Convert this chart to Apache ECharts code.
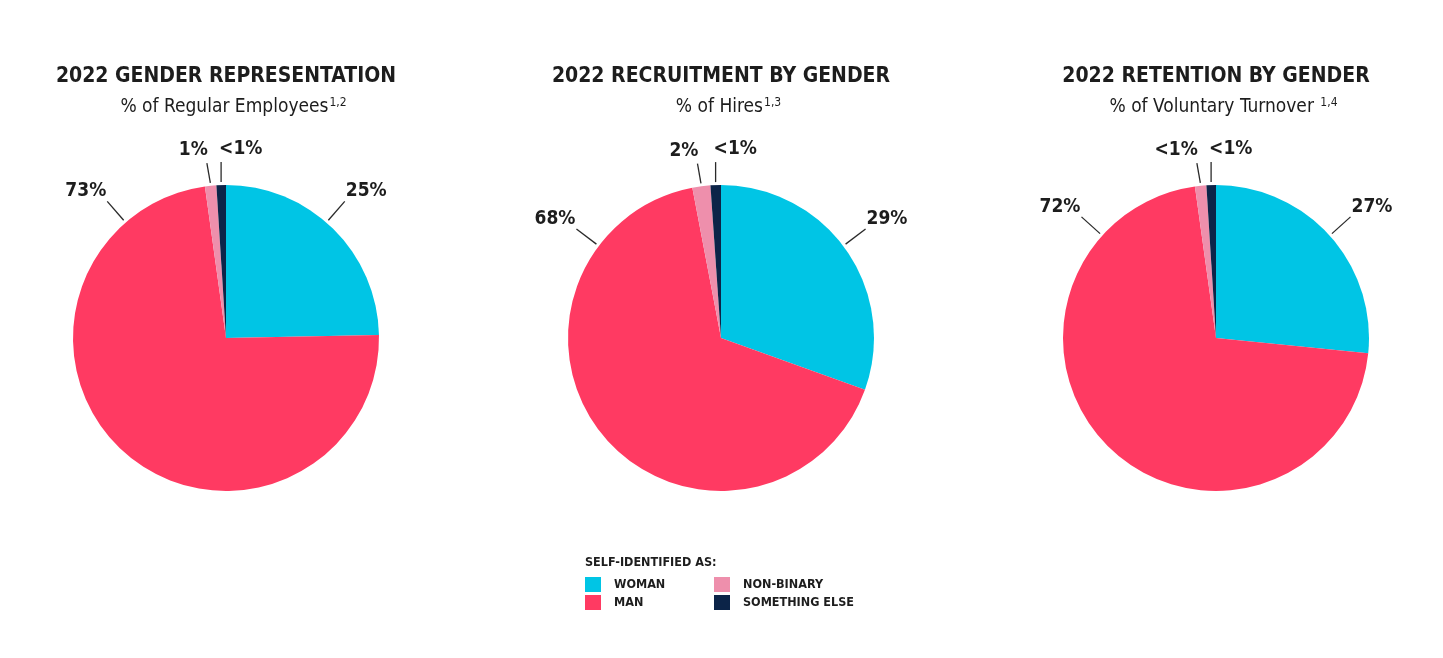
<!DOCTYPE html>
<html>
<head>
<meta charset="utf-8">
<script src="https://cdn.jsdelivr.net/npm/echarts@6/dist/echarts.min.js"></script>
<style>
  html, body { margin: 0; padding: 0; background: #ffffff; }
  #chart { width: 1443px; height: 658px; }
</style>
</head>
<body>
<div id="chart"></div>
<script>
// ---- data ----
const categories = ['Woman', 'Man', 'Non-binary', 'Something else'];
const representationValues = [24.7, 73.1, 1.2, 1.0];
const recruitmentValues   = [30.5, 66.5, 1.9, 1.1];
const retentionValues     = [26.6, 71.2, 1.2, 1.0];
const representationLabels = ['25%', '73%', '1%', '<1%'];
const recruitmentLabels    = ['29%', '68%', '2%', '<1%'];
const retentionLabels      = ['27%', '72%', '<1%', '<1%'];
const chartTitles = ['2022 GENDER REPRESENTATION', '2022 RECRUITMENT BY GENDER', '2022 RETENTION BY GENDER'];
const chartSubtitles = ['% of Regular Employees', '% of Hires', '% of Voluntary Turnover '];
const footnotes = ['1,2', '1,3', '1,4'];
const legendHeading = 'SELF-IDENTIFIED AS:';

// ---- styling / layout ----
const colors = ['#00C5E5', '#FF3A62', '#EE8FAC', '#0C2448'];
const FONT = "'Liberation Sans Narrow', 'Arial Narrow', 'DejaVu Sans Condensed', sans-serif";
const pieCenters = [[226, 338], [721, 338], [1216, 338]];
const R = 153;
const bigLabelAngles = [41, 53, 48];

const allValues = [representationValues, recruitmentValues, retentionValues];
const allLabels = [representationLabels, recruitmentLabels, retentionLabels];

function pt(cx, cy, deg, r) {
  const a = deg * Math.PI / 180;
  return [cx + r * Math.sin(a), cy - r * Math.cos(a)];
}
function midAngle(si, di) {
  const vals = allValues[si];
  const total = vals.reduce((s, v) => s + v, 0);
  let cum = 0;
  for (let i = 0; i < di; i++) cum += vals[i];
  const mid = (cum + vals[di] / 2) / total * 360;
  return mid > 180 ? mid - 360 : mid;
}

function labelLayout(params) {
  const si = params.seriesIndex, di = params.dataIndex;
  const [cx, cy] = pieCenters[si];
  let start, end, x, y, align;
  if (di < 2) {
    const a = di === 0 ? bigLabelAngles[si] : -bigLabelAngles[si];
    start = pt(cx, cy, a, R + 3);
    end = pt(cx, cy, a, R + 28);
    x = di === 0 ? end[0] + 1 : end[0] - 1;
    y = end[1] - 10;
    align = di === 0 ? 'left' : 'right';
  } else {
    const a = midAngle(si, di);
    start = pt(cx, cy, a, R + 3);
    const dir = di === 2 ? -10 : 0;
    end = pt(start[0], start[1], dir, 20);
    x = di === 2 ? end[0] + 1 : end[0] - 2;
    y = end[1] - 13;
    align = di === 2 ? 'right' : 'left';
  }
  return {
    x: x, y: y, align: align, verticalAlign: 'middle',
    labelLinePoints: [start, end, end]
  };
}

const series = allValues.map((vals, si) => ({
  type: 'pie',
  center: pieCenters[si],
  radius: R,
  startAngle: 90,
  clockwise: true,
  avoidLabelOverlap: false,
  minShowLabelAngle: 0,
  silent: true,
  itemStyle: { borderWidth: 0 },
  label: {
    show: true,
    position: 'outside',
    formatter: p => allLabels[si][p.dataIndex],
    fontFamily: FONT,
    fontWeight: 'bold',
    fontSize: 19,
    color: '#1d1d1d'
  },
  labelLine: { show: true, lineStyle: { color: '#2a2a2a', width: 1.3 } },
  labelLayout: labelLayout,
  data: categories.map((c, i) => ({ name: c, value: vals[i] }))
}));

const titles = [];
chartTitles.forEach((t, i) => {
  titles.push({
    text: t,
    left: pieCenters[i][0],
    top: 66,
    padding: 0,
    textAlign: 'center',
    textStyle: { fontFamily: FONT, fontWeight: 'bold', fontSize: 21, color: '#1d1d1d' }
  });
  titles.push({
    text: '{pad|}' + chartSubtitles[i] + '{sup|' + footnotes[i] + '}',
    left: pieCenters[i][0],
    top: 97,
    padding: 0,
    textAlign: 'center',
    textStyle: {
      fontFamily: FONT, fontWeight: 'normal', fontSize: 19, color: '#1d1d1d',
      rich: {
        pad: { width: 15 },
        sup: { fontFamily: FONT, fontSize: 12, color: '#1d1d1d', verticalAlign: 'top', padding: [0, 0, 8, 1] }
      }
    }
  });
});
titles.push({
  text: legendHeading,
  left: 585,
  top: 556,
  padding: 0,
  textStyle: { fontFamily: FONT, fontWeight: 'bold', fontSize: 12.5, color: '#1d1d1d' }
});

const legendCommon = {
  orient: 'vertical',
  top: 577,
  padding: 0,
  itemWidth: 16,
  itemHeight: 15,
  itemGap: 3,
  icon: 'rect',
  selectedMode: false,
  formatter: n => n.toUpperCase(),
  textStyle: { fontFamily: FONT, fontWeight: 'bold', fontSize: 12.5, color: '#1d1d1d', padding: [0, 0, 0, 8] }
};

const option = {
  animation: false,
  color: colors,
  title: titles,
  legend: [
    Object.assign({}, legendCommon, { left: 585, data: categories.slice(0, 2) }),
    Object.assign({}, legendCommon, { left: 714, data: categories.slice(2, 4) })
  ],
  series: series
};

const chart = echarts.init(document.getElementById('chart'), null, { renderer: 'canvas' });
chart.setOption(option);
</script>
</body>
</html>
